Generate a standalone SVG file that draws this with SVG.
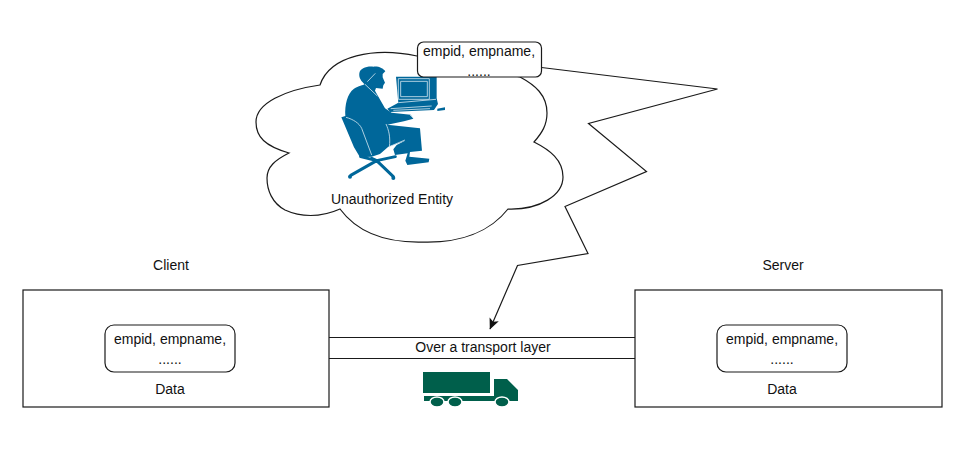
<svg xmlns="http://www.w3.org/2000/svg" width="975" height="449" viewBox="0 0 975 449">
<style>
text{font-family:"Liberation Sans",Arial,sans-serif;font-size:14px;fill:#111;text-anchor:middle}
.b{fill:#fff;stroke:#1a1a1a;stroke-width:1.2}
.l{fill:none;stroke:#1a1a1a;stroke-width:1.2}
.p{fill:#00679a}
.w{fill:none;stroke:#cfe3ee;stroke-width:2.500}
.s{fill:none;stroke:#00679a;stroke-width:9;stroke-linecap:round}
.t{fill:#005f4b}
</style>
<defs><marker id="a" markerUnits="userSpaceOnUse" markerWidth="12" markerHeight="12" refX="10.5" refY="5" orient="auto"><path d="M0 0L11 5L0 10L2.5 5Z" fill="#111"/></marker></defs>
<rect width="975" height="449" fill="#fff"/>
<g id="cloud">
<path class="b" d="M320 85C330 55 375 47 417 56L520 77C535 85 547 95 547 113C547 125 542 133 534 142C550 150 563 160 563 177C563 195 540 210 508 209C490 232 460 243 423 242C385 243 357 232 340 209C320 218 300 217 285 210C272 203 267 190 267 178C267 167 275 160 289 153C265 146 256 137 256 122C256 103 285 90 320 85Z"/>
</g>
<g id="person" transform="translate(330 30) scale(.3333)">
<path class="p" d="M198 140H305L320 132V205L324 222L312 240L180 246L172 236L205 218Z"/>
<path class="w" d="M205 146H298V208H205ZM212 154H292V200H212ZM182 236L305 228M190 241L300 236M205 218L318 208"/>
<path class="p" d="M322 236L345 232L345 240L322 243Z"/>
<path class="p" d="M88 130C90 115 110 108 130 110C145 108 160 115 166 124L158 132L158 142L165 158L160 166L158 176L138 174L135 182L165 235L185 248L242 254L250 266L222 274L172 284L270 295L276 362L240 366L238 380L298 386L296 397L232 405L226 392L233 370L195 375L190 358L200 345L225 332L175 350L150 372L125 380L90 382L72 352L34 262L46 258C44 225 52 190 72 176C85 168 100 166 104 163C95 155 86 145 88 130Z"/>
<path class="w" d="M48 262C70 268 88 280 95 295L125 375M168 282C176 300 182 320 178 352M105 163L142 198M112 155L136 130M178 350L225 330M240 255L250 264"/>
<path class="s" d="M125 385L140 392M140 392L62 436M140 392L190 440M140 392L196 380M140 392L92 380"/>
<circle class="p" cx="60" cy="440" r="6"/><circle class="p" cx="190" cy="444" r="6"/>
</g>
<text x="392" y="204">Unauthorized Entity</text>
<g id="leak">
<rect class="b" x="417.500" y="42" width="124" height="35" rx="6"/>
<text x="479" y="56">empid, empname,</text>
<text x="479" y="76">......</text>
</g>
<g id="client">
<rect class="b" x="23" y="290" width="306" height="117"/>
<text x="171" y="270">Client</text>
<rect class="b" x="105" y="325" width="130" height="47" rx="9"/>
<text x="170" y="344">empid, empname,</text>
<text x="170" y="364">......</text>
<text x="170" y="394">Data</text>
</g>
<g id="server">
<rect class="b" x="635" y="290" width="307" height="117"/>
<text x="783" y="270">Server</text>
<rect class="b" x="717" y="325" width="130" height="47" rx="9"/>
<text x="782" y="344">empid, empname,</text>
<text x="782" y="364">......</text>
<text x="782" y="394">Data</text>
</g>
<g id="connectors">
<path class="l" d="M329 337.500H635M329 358.500H635"/>
<path class="l" marker-end="url(#a)" d="M541.500 67.500L717.500 89L588.500 123.500L646.500 171.500L565 206.500L588 253.500L517.500 265.500L490 329"/>
</g>
<text x="483" y="352">Over a transport layer</text>
<g id="truck">
<path class="t" d="M423 372H490V393H423ZM494 379H507L518 390V401H424V396H494Z"/>
<g fill="#005f4b" stroke="#fff" stroke-width="1.500"><ellipse cx="437" cy="402" rx="7" ry="5"/><ellipse cx="455" cy="402" rx="7" ry="5"/><ellipse cx="502" cy="402" rx="7" ry="5"/></g>
</g>
</svg>
